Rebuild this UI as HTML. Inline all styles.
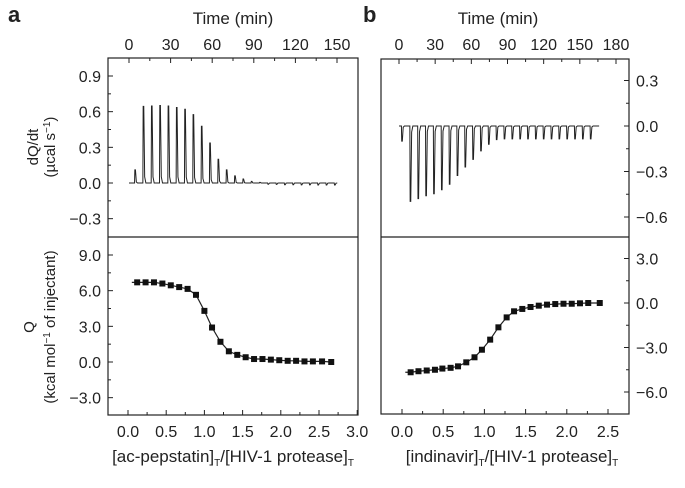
<!DOCTYPE html>
<html><head><meta charset="utf-8"><style>
body{margin:0;background:#fff;}
svg{display:block;font-family:"Liberation Sans",sans-serif;}
</style></head><body>
<svg id="chart" width="685" height="488" viewBox="0 0 685 488">
<text x="8" y="22" font-size="22" font-weight="bold" fill="#222">a</text>
<text x="363" y="22" font-size="22" font-weight="bold" fill="#222">b</text>
<text x="233" y="24" font-size="17" fill="#222" text-anchor="middle">Time (min)</text>
<text x="498" y="24" font-size="17" fill="#222" text-anchor="middle">Time (min)</text>
<text transform="translate(38,147) rotate(-90)" font-size="15" fill="#222" text-anchor="middle">dQ/dt</text>
<text transform="translate(55,147) rotate(-90)" font-size="15" fill="#222" text-anchor="middle">(µcal s<tspan font-size="10" dy="-5">−1</tspan><tspan dy="5">)</tspan></text>
<text transform="translate(34,327) rotate(-90)" font-size="15" fill="#222" text-anchor="middle">Q</text>
<text transform="translate(55,327) rotate(-90)" font-size="15" fill="#222" text-anchor="middle">(kcal mol<tspan font-size="10" dy="-5">−1</tspan><tspan dy="5"> of injectant)</tspan></text>
<text x="233" y="462" font-size="17" fill="#222" text-anchor="middle">[ac-pepstatin]<tspan font-size="10" dy="4">T</tspan><tspan dy="-4">/[HIV-1 protease]</tspan><tspan font-size="10" dy="4">T</tspan></text>
<text x="512" y="462" font-size="17" fill="#222" text-anchor="middle">[indinavir]<tspan font-size="10" dy="4">T</tspan><tspan dy="-4">/[HIV-1 protease]</tspan><tspan font-size="10" dy="4">T</tspan></text>
</svg>
<script>
// Panel a, thermogram
const aInjTimes=[4,10,16,22,28,34,40,46,52,58,64,70,76,82,88,94,100,106,112,118,124,130,136,142,148];
const aPeaks=[0.11,0.645,0.648,0.652,0.648,0.635,0.62,0.575,0.477,0.336,0.2,0.11,0.06,0.034,0.014,0.005,-0.01,-0.012,-0.015,-0.015,-0.016,-0.016,-0.017,-0.017,-0.017];
const aTimeTicks=[0,30,60,90,120,150];
const aDqTicks=[0.9,0.6,0.3,0.0,-0.3];
// Panel a, binding isotherm
const aRatio=[0.12,0.23,0.34,0.45,0.56,0.67,0.78,0.89,1.0,1.1,1.21,1.32,1.43,1.54,1.65,1.76,1.87,1.98,2.09,2.2,2.31,2.42,2.54,2.66];
const aQ=[6.7,6.7,6.7,6.6,6.45,6.3,6.15,5.65,4.3,2.9,1.7,0.9,0.6,0.4,0.25,0.25,0.2,0.15,0.1,0.1,0.05,0.05,0.05,0.0];
const aRatioTicks=[0,0.5,1.0,1.5,2.0,2.5,3.0];
const aQTicks=[9.0,6.0,3.0,0.0,-3.0];
// Panel b, thermogram
const bInjTimes=[2,9,15.5,22,28.5,35,41.5,48,54.5,61,67.5,74,80.5,87,93.5,100,106.5,113,119.5,126,132.5,139,145.5,152,158.5];
const bPeaks=[-0.1,-0.497,-0.479,-0.46,-0.447,-0.42,-0.384,-0.326,-0.27,-0.22,-0.164,-0.12,-0.09,-0.085,-0.085,-0.085,-0.085,-0.085,-0.085,-0.085,-0.085,-0.085,-0.085,-0.085,-0.085];
const bTimeTicks=[0,30,60,90,120,150,180];
const bDqTicks=[0.3,0.0,-0.3,-0.6];
// Panel b, binding isotherm
const bRatio=[0.105,0.2,0.3,0.4,0.49,0.59,0.68,0.78,0.88,0.97,1.07,1.17,1.27,1.36,1.46,1.56,1.66,1.76,1.86,1.96,2.06,2.16,2.26,2.4];
const bQ=[-4.67,-4.6,-4.55,-4.5,-4.42,-4.37,-4.27,-4.0,-3.66,-3.15,-2.47,-1.64,-0.97,-0.56,-0.4,-0.27,-0.18,-0.11,-0.07,-0.05,-0.05,-0.02,0.0,0.0];
const bRatioTicks=[0,0.5,1.0,1.5,2.0,2.5];
const bQTicks=[3.0,0.0,-3.0,-6.0];

const NS='http://www.w3.org/2000/svg';
const svg=document.getElementById('chart');
function mk(tag,attrs,parent){const e=document.createElementNS(NS,tag);for(const k in attrs)e.setAttribute(k,attrs[k]);(parent||svg).appendChild(e);return e;}
function lin(d0,d1,r0,r1){return v=>r0+(v-d0)/(d1-d0)*(r1-r0);}
const C='#222';
function fmt(v,d){let s=v.toFixed(d);if(v<0)s='\u2212'+(-v).toFixed(d);return s;}

function frame(x0,y0,x1,y1,name){
  const r=mk('rect',{x:x0,y:y0,width:x1-x0,height:y1-y0,fill:'none',stroke:C,'stroke-width':1.2});
  
  
}
function xTicks(sx,ticks,yAxis,dir,labelY,dec,name,xl,xr){
  const g=mk('g',{});
  
  
  const step=(ticks[1]-ticks[0])/2;
  for(let v=ticks[0];v<=ticks[ticks.length-1]+1e-9;v+=step){
    const x=sx(v);if(x<xl||x>xr)continue;
    const major=Math.abs(((v-ticks[0])/step)%2)<1e-6;
    mk('line',{x1:x,x2:x,y1:yAxis,y2:yAxis+dir*(major?5:3),stroke:C,'stroke-width':1},g);
  }
  ticks.forEach(v=>{const t=mk('text',{x:sx(v),y:labelY,'font-size':16,fill:C,'text-anchor':'middle'},g);t.textContent=fmt(v,dec);});
}
function yTicks(sy,ticks,xAxis,dir,labelX,anchor,name,yt,yb){
  const g=mk('g',{});
  
  
  const step=(ticks[0]-ticks[1])/2;
  for(let v=ticks[ticks.length-1]-step;v<=ticks[0]+step+1e-9;v+=step){
    const y=sy(v);if(y<yt+1||y>yb-1)continue;
    const major=Math.abs(((v-ticks[ticks.length-1])/step)%2)<1e-6||Math.abs(Math.abs(((v-ticks[ticks.length-1])/step)%2)-2)<1e-6;
    mk('line',{x1:xAxis,x2:xAxis+dir*(major?5:3),y1:y,y2:y,stroke:C,'stroke-width':1},g);
  }
  ticks.forEach(v=>{const t=mk('text',{x:labelX,y:sy(v)+6,'font-size':16,fill:C,'text-anchor':anchor},g);t.textContent=fmt(v,1);});
}
function thermo(sx,sy,times,peaks,tEnd,name){
  let d='M'+sx(0)+','+sy(0);
  times.forEach((t,i)=>{
    const x=sx(t),h=sy(peaks[i]),y0=sy(0);
    d+=' L'+x+','+y0+' L'+(x+0.3)+','+h+' L'+(x+0.9)+','+h+' L'+(x+1.8)+','+(y0+(h-y0)*0.08)+' L'+(x+3)+','+y0;
  });
  d+=' L'+sx(tEnd)+','+sy(0);
  const p=mk('path',{d:d,fill:'none',stroke:C,'stroke-width':1,'stroke-linejoin':'miter'});
  
  
}
function iso(sx,sy,xs,ys,x0,name){
  const g=mk('g',{});
  
  
  let d='M'+sx(x0)+','+sy(ys[0]);
  xs.forEach((x,i)=>{d+=' L'+sx(x)+','+sy(ys[i]);});
  mk('path',{d:d,fill:'none',stroke:C,'stroke-width':1.2},g);
  xs.forEach((x,i)=>{
    const r=mk('rect',{x:sx(x)-3,y:sy(ys[i])-3,width:6,height:6,fill:'#111'},g);
    
    
  });
}

// Panel a
const aL=108,aR=358,aT=58,aM=237,aB=415;
const axT=lin(0,150,129,337), ayT=lin(0,0.9,183,76);
const axB=lin(0,2.5,128,319), ayB=lin(0,9,362,255);
frame(aL,aT,aR,aB,'panel-a-frame');
mk('line',{x1:aL,x2:aR,y1:aM,y2:aM,stroke:C,'stroke-width':1.2});
xTicks(axT,aTimeTicks,aT,1,50,0,'panel-a-time-axis',aL,aR);
yTicks(ayT,aDqTicks,aL,1,101,'end','panel-a-dqdt-axis',aT,aM);
thermo(axT,ayT,aInjTimes,aPeaks,150,'panel-a-thermogram');
xTicks(axB,aRatioTicks,aB,-1,437,1,'panel-a-ratio-axis',aL,aR);
yTicks(ayB,aQTicks,aL,1,101,'end','panel-a-q-axis',aM,aB);
iso(axB,ayB,aRatio,aQ,0.05,'panel-a-isotherm');

// Panel b
const bL=381,bR=629,bT=59,bM=237,bB=414;
const bxT=lin(0,180,399,616), byT=lin(0,0.3,126,80.5);
const bxB=lin(0,2.5,402,608), byB=lin(0,3,303,258.5);
frame(bL,bT,bR,bB,'panel-b-frame');
mk('line',{x1:bL,x2:bR,y1:bM,y2:bM,stroke:C,'stroke-width':1.2});
xTicks(bxT,bTimeTicks,bT,1,50,0,'panel-b-time-axis',bL,bR);
yTicks(byT,bDqTicks,bR,-1,636,'start','panel-b-dqdt-axis',bT,bM);
thermo(bxT,byT,bInjTimes,bPeaks,166,'panel-b-thermogram');
xTicks(bxB,bRatioTicks,bB,-1,437,1,'panel-b-ratio-axis',bL,bR);
yTicks(byB,bQTicks,bR,-1,636,'start','panel-b-q-axis',bM,bB);
iso(bxB,byB,bRatio,bQ,0.04,'panel-b-isotherm');
</script>
</body></html>
